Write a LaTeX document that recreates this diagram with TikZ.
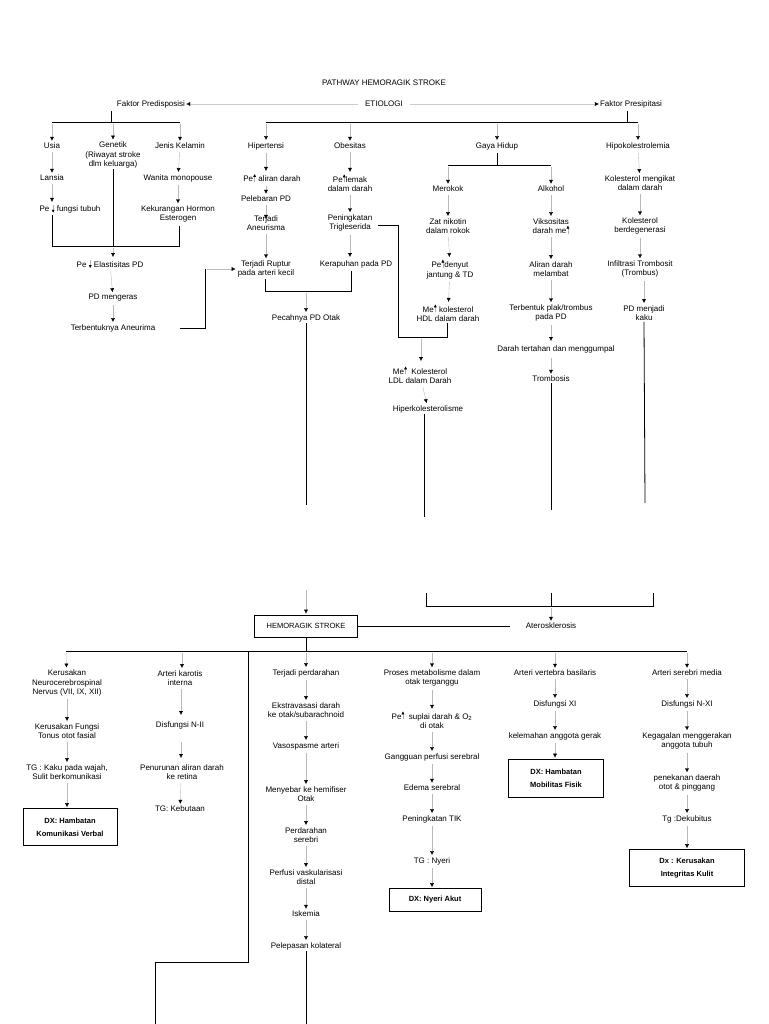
\documentclass[tikz,border=0pt]{standalone}
\usepackage{fontspec}
\setmainfont{Liberation Sans}
\usetikzlibrary{arrows.meta}
\newcommand\upar{\tikz[baseline=0pt]\draw[-{Latex[length=3pt,width=3pt,black]},gray!60,line width=0.4pt](0pt,0pt)--(0pt,8pt);}
\newcommand\dnar{\tikz[baseline=0pt]\draw[-{Latex[length=3pt,width=3pt,black]},gray!60,line width=0.4pt](0pt,7pt)--(0pt,-1pt);}
\begin{document}
\begin{tikzpicture}[x=1pt,y=-1pt,
  t/.style={font=\fontsize{8}{9.5}\selectfont,align=center,inner sep=1pt},
  dx/.style={draw,line width=0.6pt,font=\fontsize{7.5}{13}\selectfont\bfseries,align=center,inner sep=3pt},
  arr/.style={-{Latex[length=4pt,width=4pt,black]},draw=gray!55,line width=0.4pt,shorten >=1pt,shorten <=2pt},
  gar/.style={-{Latex[length=4pt,width=4pt,black]},draw=gray!40,line width=0.4pt},
  ln/.style={line width=0.8pt}]
\useasboundingbox (0,0) rectangle (768,1024);
\fill[white] (0,0) rectangle (768,1024);
\node[t] (title) at (384,83) {PATHWAY HEMORAGIK STROKE};
\node[t] (fp) at (151,104) {Faktor Predisposisi};
\node[t] (eti) at (384,104) {ETIOLOGI};
\node[t] (fs) at (631,104) {Faktor Presipitasi};
\draw[gar] (eti.west) ++(-6,0) -- (fp.east);
\draw[gar] (eti.east) ++(6,0) -- (fs.west);
% left tree
\draw[ln] (111,111) -- (111,122);
\draw[ln] (52,122) -- (180,122);
\node[t] (usia) at (52,146) {Usia};
\node[t] (gen) at (113,155) {Genetik\\(Riwayat stroke\\dlm keluarga)};
\node[t] (jk) at (180,146) {Jenis Kelamin};
\foreach \x/\n in {52/usia,180/jk} \draw[arr] (\x,122) -- (\n);
\draw[arr] (113,122) -- (gen.north);
\node[t] (lan) at (52,178) {Lansia};
\node[t] (wan) at (178,178) {Wanita monopouse};
\node[t] (ftb) at (70,209) {Pe \dnar\ fungsi tubuh};
\node[t] (keh) at (178,214) {Kekurangan Hormon\\Esterogen};
\draw[arr] (usia) -- (lan);
\draw[arr] (jk) -- (wan);
\draw[arr] (lan) -- (52,203);
\draw[arr] (wan) -- (keh);
\draw[ln] (52,215) -- (52,246) -- (179,246) -- (179,226);
\draw[ln] (gen.south) -- (113,246);
\node[t] (ela) at (110,264) {Pe \dnar\ Elastisitas PD};
\node[t] (pdm) at (113,298) {PD mengeras};
\node[t] (tba) at (113,328) {Terbentuknya Aneurima};
\draw[arr] (113,246) -- (113,258);
\draw[arr] (ela) -- (pdm);
\draw[arr] (pdm) -- (tba);
% etiologi tree
\draw[ln] (627,111) -- (627,122);
\draw[ln] (266,122) -- (638,122);
\node[t] (hip) at (266,146) {Hipertensi};
\node[t] (obe) at (350,146) {Obesitas};
\node[t] (gh) at (497,146) {Gaya Hidup};
\node[t] (hk) at (638,146) {Hipokolestrolemia};
\foreach \x/\n in {266/hip,350/obe,497/gh,638/hk} \draw[arr] (\x,122) -- (\n);
\node[t] (pad) at (272,178) {Pe\upar\ aliran darah};
\node[t] (pel) at (266,199) {Pelebaran PD};
\node[t] (tan) at (266,223) {Terjadi\\Aneurisma};
\node[t] (tru) at (266,269) {Terjadi Ruptur\\pada arteri kecil};
\draw[arr] (hip) -- (266,172);
\draw[arr] (266,184) -- (pel);
\draw[arr] (pel) -- (266,220);
\draw[arr] (tan) -- (tru);
\node[t] (pld) at (350,183) {Pe\upar lemak\\dalam darah};
\node[t] (pet) at (350,223) {Peningkatan\\Trigleserida};
\node[t] (ker) at (356,264) {Kerapuhan pada PD};
\draw[arr] (obe) -- (pld);
\draw[arr] (pld) -- (pet);
\draw[arr] (pet) -- (350,258);
\draw[ln] (180,328) -- (205,328) -- (205,269);
\draw[arr] (205,269) -- (tru.west);
\draw[ln] (265,279) -- (265,291) -- (351,291) -- (351,271);
\node[t] (pec) at (306,318) {Pecahnya PD Otak};
\draw[arr] (306,291) -- (pec);
\draw[ln] (pec.south) -- (306,505);
% gaya hidup
\draw[ln] (497,153) -- (497,165);
\draw[ln] (448,165) -- (551,165);
\node[t] (mer) at (448,189) {Merokok};
\node[t] (alk) at (551,189) {Alkohol};
\draw[arr] (448,165) -- (mer);
\draw[arr] (551,165) -- (alk);
\node[t] (zat) at (448,226) {Zat nikotin\\dalam rokok};
\node[t] (pdj) at (450,269) {Pe\upar denyut\\jantung \& TD};
\node[t] (hdl) at (448,313) {Me\upar\ kolesterol\\HDL dalam darah};
\draw[arr] (mer) -- (zat);
\draw[arr] (zat) -- (pdj);
\draw[arr] (pdj) -- (hdl);
\draw[ln] (378,225) -- (398,225) -- (398,337) -- (447,337) -- (hdl.south -| 447,0);
\node[t] (ldl) at (420,375) {Me\upar\ \ Kolesterol\\LDL dalam Darah};
\node[t] (hko) at (428,409) {Hiperkolesterolisme};
\draw[arr] (421,337) -- (421,362);
\draw[arr] (ldl) -- (hko);
\draw[ln] (hko.south -| 424,0) -- (424,517);
\node[t] (vik) at (551,226) {Viksositas\\darah me\upar};
\node[t] (ald) at (551,269) {Aliran darah\\melambat};
\node[t] (tpl) at (551,313) {Terbentuk plak/trombus\\pada PD};
\node[t] (dtm) at (556,349) {Darah tertahan dan menggumpal};
\node[t] (tro) at (551,379) {Trombosis};
\draw[arr] (alk) -- (vik);
\draw[arr] (vik) -- (ald);
\draw[arr] (ald) -- (tpl);
\draw[arr] (tpl) -- (551,342);
\draw[arr] (551,356) -- (tro);
\draw[ln] (tro.south) -- (551,510);
\node[t] (kmd) at (640,183) {Kolesterol mengikat\\dalam darah};
\node[t] (kbd) at (640,226) {Kolesterol\\berdegenerasi};
\node[t] (inf) at (640,269) {Infiltrasi Trombosit\\(Trombus)};
\node[t] (pdk) at (644,313) {PD menjadi\\kaku};
\draw[arr] (hk) -- (kmd);
\draw[arr] (kmd) -- (kbd);
\draw[arr] (kbd) -- (inf);
\draw[arr] (inf.south -| 644,0) -- (pdk);
\draw[ln] (pdk.south) -- (645,503);
% bottom of etiology
\draw[ln] (426,593) -- (426,606) -- (653,606) -- (653,593);
\draw[ln] (551,593) -- (551,606);
\node[t] (ate) at (551,626) {Aterosklerosis};
\draw[arr] (551,606) -- (ate);
\node[draw,line width=0.6pt,font=\fontsize{7.5}{9}\selectfont,inner sep=4pt,minimum width=103pt,minimum height=22pt] (hs) at (306,626) {HEMORAGIK STROKE};
\draw[arr] (306,588) -- (hs);
\draw[ln] (hs.east) -- (510,626);
\draw[ln] (hs.south) -- (306,651);
\draw[ln] (66,651) -- (687,651);
% columns
\node[t] (c1a) at (67,683) {Kerusakan\\Neurocerebrospinal\\Nervus (VII, IX, XII)};
\node[t] (c1b) at (67,731) {Kerusakan Fungsi\\Tonus otot fasial};
\node[t] (c1c) at (67,772) {TG : Kaku pada wajah,\\Sulit berkomunikasi};
\node[dx,minimum width=94pt,minimum height=37pt] (c1d) at (70,827) {DX: Hambatan\\Komunikasi Verbal};
\draw[arr] (66,651) -- (c1a);
\draw[arr] (c1a) -- (c1b);
\draw[arr] (c1b) -- (c1c);
\draw[arr] (c1c) -- (c1d.north -| 67,0);
\node[t] (c2a) at (180,678) {Arteri karotis\\interna};
\node[t] (c2b) at (180,725) {Disfungsi N-II};
\node[t] (c2c) at (182,772) {Penurunan aliran darah\\ke retina};
\node[t] (c2d) at (180,809) {TG: Kebutaan};
\draw[arr] (182,651) -- (c2a.north -| 182,0);
\draw[arr] (c2a.south -| 181,0) -- (181,716);
\draw[arr] (181,740) -- (181,759);
\draw[arr] (c2c.south -| 181,0) -- (c2d);
\draw[ln] (248,651) -- (248,962) -- (155,962) -- (155,1024);
\node[t] (c3a) at (306,673) {Terjadi perdarahan};
\node[t] (c3b) at (306,710) {Ekstravasasi darah\\ke otak/subarachnoid};
\node[t] (c3c) at (306,746) {Vasospasme arteri};
\node[t] (c3d) at (306,794) {Menyebar ke hemifiser\\Otak};
\node[t] (c3e) at (306,835) {Perdarahan\\serebri};
\node[t] (c3f) at (306,877) {Perfusi vaskularisasi\\distal};
\node[t] (c3g) at (306,914) {Iskemia};
\node[t] (c3h) at (306,946) {Pelepasan kolateral};
\draw[arr] (306,651) -- (c3a);
\foreach \a/\b in {c3a/c3b,c3b/c3c,c3c/c3d,c3d/c3e,c3e/c3f,c3f/c3g,c3g/c3h} \draw[arr] (\a) -- (\b);
\draw[ln] (c3h.south) -- (306,1024);
\node[t] (c4a) at (432,678) {Proses metabolisme dalam\\otak terganggu};
\node[t] (c4b) at (432,720) {Pe\upar\ \ suplai darah \& O\textsubscript{2}\\di otak};
\node[t] (c4c) at (432,757) {Gangguan perfusi serebral};
\node[t] (c4d) at (432,788) {Edema serebral};
\node[t] (c4e) at (432,819) {Peningkatan TIK};
\node[t] (c4f) at (432,861) {TG : Nyeri};
\node[dx,minimum width=92pt,minimum height=23pt] (c4g) at (435,900) {DX: Nyeri Akut};
\draw[arr] (432,651) -- (c4a);
\draw[arr] (c4a) -- (c4b);
\foreach \a/\b in {c4b/c4c,c4c/c4d,c4d/c4e,c4e/c4f} \draw[arr] (\a) -- (\b);
\draw[arr] (c4f) -- (c4g.north -| 432,0);
\node[t] (c5a) at (555,673) {Arteri vertebra basilaris};
\node[t] (c5b) at (555,704) {Disfungsi XI};
\node[t] (c5c) at (555,736) {kelemahan anggota gerak};
\node[dx,minimum width=95pt,minimum height=38pt] (c5d) at (556,778) {DX: Hambatan\\Mobilitas Fisik};
\draw[arr] (555,651) -- (c5a);
\draw[arr] (c5a) -- (c5b);
\draw[arr] (c5b) -- (c5c);
\draw[arr] (c5c) -- (c5d.north -| 555,0);
\node[t] (c6a) at (687,673) {Arteri serebri media};
\node[t] (c6b) at (687,704) {Disfungsi N-XI};
\node[t] (c6c) at (687,741) {Kegagalan menggerakan\\anggota tubuh};
\node[t] (c6d) at (687,783) {penekanan daerah\\otot \& pinggang};
\node[t] (c6e) at (687,819) {Tg :Dekubitus};
\node[dx,minimum width=115pt,minimum height=37pt] (c6f) at (687,868) {Dx : Kerusakan\\Integritas Kulit};
\draw[arr] (687,651) -- (c6a);
\foreach \a/\b in {c6a/c6b,c6b/c6c,c6c/c6d,c6d/c6e,c6e/c6f} \draw[arr] (\a) -- (\b);
\end{tikzpicture}
\end{document}
